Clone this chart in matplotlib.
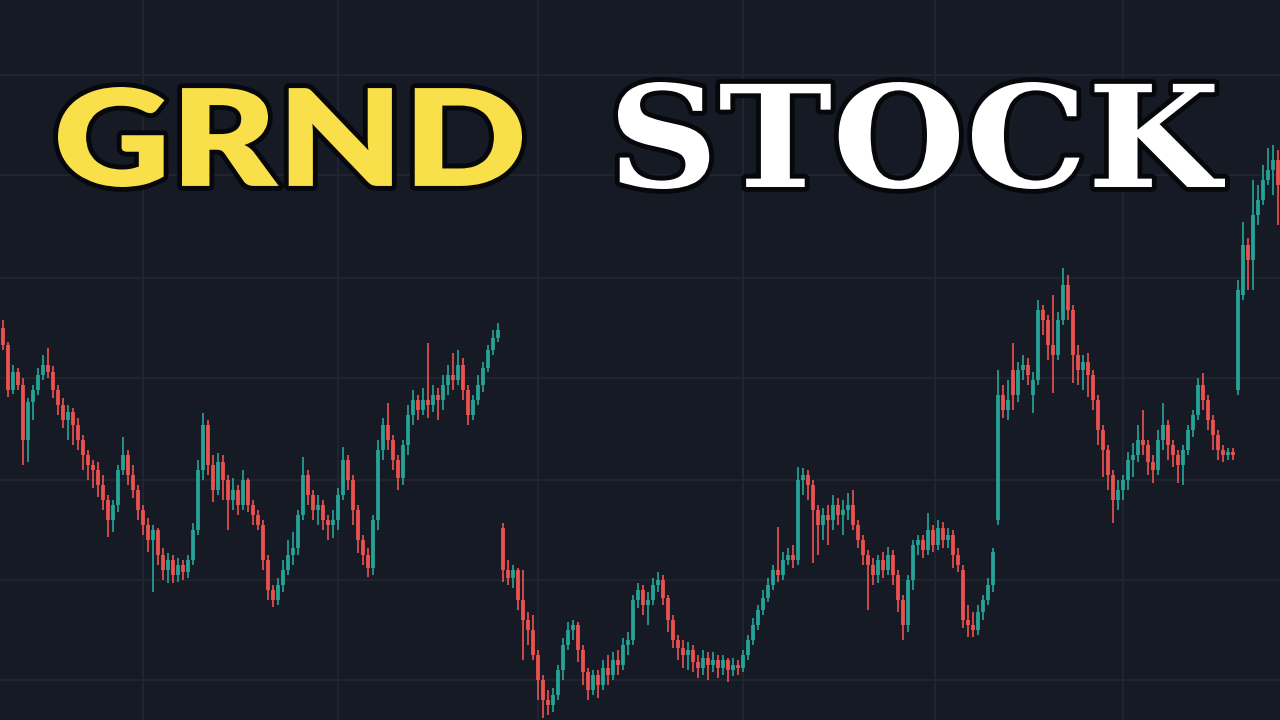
import matplotlib
matplotlib.use("Agg")
import matplotlib.pyplot as plt
from matplotlib.font_manager import FontProperties
from matplotlib.patches import PathPatch
from matplotlib.textpath import TextPath
from matplotlib.transforms import Affine2D
import numpy as np

# daily candles, price in arbitrary chart units
opens = [
    392, 375, 330, 348, 335, 280, 318, 330, 345, 355,
    348, 330, 315, 300, 308, 295, 280, 265, 255, 250,
    235, 220, 200, 215, 250, 265, 245, 230, 210, 195,
    180, 190, 165, 150, 160, 145, 155, 148, 160, 190,
    250, 295, 255, 230, 258, 240, 220, 230, 215, 240,
    215, 205, 195, 160, 130, 120, 135, 150, 165, 172,
    205, 245, 225, 210, 215, 200, 195, 200, 225, 260,
    240, 210, 180, 165, 152, 200, 270, 295, 280, 260,
    242, 275, 305, 320, 310, 320, 315, 325, 320, 335,
    345, 340, 355, 330, 305, 320, 335, 352, 370, 382,
    192, 150, 142, 150, 120, 100, 90, 65, 40, 20,
    15, 25, 50, 75, 90, 95, 70, 48, 30, 45,
    35, 52, 45, 60, 55, 75, 80, 120, 130, 115,
    120, 135, 140, 122, 100, 80, 72, 65, 70, 58,
    52, 62, 55, 60, 52, 60, 50, 55, 52, 65,
    80, 95, 110, 122, 135, 150, 145, 160, 165, 160,
    240, 245, 235, 210, 195, 205, 200, 215, 205, 210,
    215, 195, 180, 165, 155, 145, 160, 150, 165, 145,
    120, 95, 140, 175, 180, 170, 190, 175, 192, 180,
    185, 165, 150, 100, 95, 90, 108, 120, 135, 200,
    325, 310, 350, 325, 350, 355, 325, 340, 410, 400,
    375, 365, 400, 435, 410, 365, 350, 358, 345, 320,
    290, 270, 245, 220, 230, 240, 260, 265, 280, 275,
    258, 250, 280, 295, 275, 265, 255, 270, 290, 305,
    335, 320, 300, 285, 270, 265, 268, 330, 425, 475,
    460, 505, 520, 540, 550, 560,
]
closes = [
    375, 330, 348, 335, 280, 318, 330, 345, 355, 348,
    330, 315, 300, 308, 295, 280, 265, 255, 250, 235,
    220, 200, 215, 250, 265, 245, 230, 210, 195, 180,
    190, 165, 150, 160, 145, 155, 148, 160, 190, 250,
    295, 255, 230, 258, 240, 220, 230, 215, 240, 215,
    205, 195, 160, 130, 120, 135, 150, 165, 172, 205,
    245, 225, 210, 215, 200, 195, 200, 225, 260, 240,
    210, 180, 165, 152, 200, 270, 295, 280, 260, 242,
    275, 305, 320, 310, 320, 315, 325, 320, 335, 345,
    340, 355, 330, 305, 320, 335, 352, 370, 382, 390,
    150, 142, 150, 120, 100, 90, 65, 40, 20, 15,
    25, 50, 75, 90, 95, 70, 48, 30, 45, 35,
    52, 45, 60, 55, 75, 80, 120, 130, 115, 120,
    135, 140, 122, 100, 80, 72, 65, 70, 58, 52,
    62, 55, 60, 52, 60, 50, 55, 52, 65, 80,
    95, 110, 122, 135, 150, 145, 160, 165, 160, 240,
    245, 235, 210, 195, 205, 200, 215, 205, 210, 215,
    195, 180, 165, 155, 145, 160, 150, 165, 145, 120,
    95, 140, 175, 180, 170, 190, 175, 192, 180, 185,
    165, 155, 100, 95, 90, 108, 120, 135, 168, 325,
    310, 320, 325, 350, 355, 345, 340, 410, 400, 375,
    365, 400, 435, 410, 365, 350, 358, 345, 320, 290,
    270, 245, 220, 230, 240, 260, 265, 280, 275, 258,
    250, 280, 295, 275, 265, 255, 270, 290, 305, 335,
    320, 300, 285, 270, 265, 268, 265, 430, 475, 460,
    505, 520, 540, 550, 560, 535,
]
highs = [
    400, 378, 355, 352, 342, 322, 335, 352, 365, 372,
    354, 335, 322, 315, 312, 302, 285, 270, 260, 258,
    245, 225, 220, 255, 283, 270, 255, 235, 215, 202,
    195, 192, 172, 167, 165, 162, 160, 165, 197, 260,
    307, 300, 265, 267, 265, 245, 242, 235, 250, 242,
    220, 210, 200, 165, 135, 142, 160, 180, 188, 210,
    263, 250, 230, 225, 220, 205, 210, 232, 273, 265,
    245, 215, 185, 172, 205, 280, 302, 317, 285, 265,
    280, 315, 330, 325, 332, 377, 335, 332, 345, 355,
    367, 370, 362, 335, 325, 345, 358, 375, 390, 397,
    197, 160, 155, 152, 150, 108, 105, 70, 45, 30,
    32, 55, 82, 98, 100, 98, 75, 52, 50, 50,
    60, 65, 68, 70, 82, 88, 125, 137, 135, 128,
    142, 148, 145, 125, 105, 85, 80, 78, 75, 65,
    70, 68, 68, 65, 65, 62, 62, 60, 70, 85,
    102, 115, 130, 142, 155, 193, 168, 172, 175, 253,
    252, 250, 240, 215, 212, 215, 225, 222, 220, 227,
    230, 200, 185, 170, 162, 165, 168, 173, 170, 150,
    125, 145, 180, 185, 185, 207, 195, 200, 198, 192,
    190, 172, 155, 115, 108, 115, 125, 142, 172, 350,
    335, 340, 377, 358, 365, 362, 348, 420, 415, 405,
    425, 408, 452, 445, 415, 375, 365, 367, 350, 325,
    295, 275, 250, 240, 245, 268, 277, 295, 310, 280,
    265, 290, 317, 300, 280, 270, 275, 295, 310, 342,
    347, 325, 305, 290, 275, 272, 272, 440, 498, 482,
    540, 535, 555, 572, 575, 570,
]
lows = [
    370, 323, 326, 330, 255, 258, 300, 325, 340, 342,
    322, 305, 292, 280, 275, 270, 250, 240, 232, 223,
    210, 183, 188, 208, 245, 235, 222, 200, 185, 168,
    128, 155, 140, 137, 137, 138, 140, 142, 155, 185,
    240, 245, 218, 225, 220, 190, 210, 205, 210, 208,
    195, 190, 150, 120, 113, 115, 128, 145, 155, 165,
    200, 215, 200, 195, 190, 180, 182, 190, 220, 230,
    195, 167, 155, 143, 145, 190, 260, 270, 250, 230,
    235, 265, 295, 300, 305, 302, 308, 300, 310, 325,
    330, 335, 320, 295, 300, 315, 328, 348, 365, 378,
    138, 135, 132, 110, 60, 75, 60, 20, 2, 5,
    8, 20, 40, 70, 80, 58, 35, 20, 25, 22,
    30, 35, 40, 45, 50, 65, 75, 112, 105, 95,
    115, 128, 115, 88, 72, 60, 52, 50, 48, 42,
    45, 40, 48, 42, 45, 38, 44, 45, 48, 60,
    75, 90, 105, 118, 130, 138, 140, 155, 152, 155,
    225, 220, 157, 165, 180, 175, 190, 195, 185, 200,
    190, 172, 155, 110, 135, 137, 142, 145, 135, 108,
    80, 88, 130, 165, 162, 165, 168, 170, 172, 172,
    152, 148, 92, 83, 83, 85, 100, 115, 128, 195,
    302, 300, 310, 318, 340, 335, 307, 335, 385, 360,
    327, 360, 395, 400, 337, 335, 330, 323, 310, 275,
    243, 230, 197, 210, 220, 230, 243, 258, 265, 245,
    237, 245, 270, 260, 253, 237, 235, 265, 283, 300,
    310, 290, 270, 260, 258, 260, 260, 325, 420, 430,
    430, 495, 515, 535, 525, 495,
]

# date gridlines (candle index) and price gridlines
grid_x = [28, 67, 107, 148, 186.5, 224]
grid_y = [40, 140, 240, 342, 442, 545, 645]

BG = "#161a25"
GRID = "#20242f"
UP = "#26a69a"
DOWN = "#ef5350"
INK = "#07080c"

o = np.array(opens, float)
c = np.array(closes, float)
h = np.maximum(np.array(highs, float), np.maximum(o, c))
l = np.minimum(np.array(lows, float), np.minimum(o, c))
x = np.arange(len(o))
colors = np.where(c >= o, UP, DOWN)

fig = plt.figure(figsize=(12.8, 7.2), dpi=100, facecolor=BG)
ax = fig.add_axes([0, 0, 1, 1])
ax.set_facecolor(BG)

for gx in grid_x:
    ax.axvline(gx, color=GRID, lw=1.5, zorder=0)
for gy in grid_y:
    ax.axhline(gy, color=GRID, lw=1.5, zorder=0)

ax.vlines(x, l, h, colors=colors, lw=1.4, alpha=0.85, zorder=2)
body = np.maximum(np.abs(c - o), 2.5)
ax.bar(x, body, bottom=np.minimum(o, c), width=0.8, color=colors,
       alpha=0.88, linewidth=0, zorder=3)

ax.set_xlim(-0.5, len(o) - 0.5)
ax.set_ylim(0, 720)
ax.axis("off")

# title overlay in pixel units (y up)
tax = fig.add_axes([0, 0, 1, 1])
tax.set_xlim(0, 1280)
tax.set_ylim(0, 720)
tax.axis("off")
tax.patch.set_alpha(0)


def word(s, fp, x0, x1, ybase, ytop, color):
    tp = TextPath((0, 0), s, size=100, prop=fp)
    ext = tp.get_extents()
    tr = (Affine2D().translate(-ext.x0, -ext.y0)
          .scale((x1 - x0) / ext.width, (ytop - ybase) / ext.height)
          .translate(x0, ybase))
    path = tr.transform_path(tp)
    tax.add_patch(PathPatch(path, fc=INK, ec=INK, lw=7, joinstyle="round"))
    tax.add_patch(PathPatch(path, fc=color, ec="none"))


word("GRND", FontProperties(family="Lato", weight="heavy"),
     58, 522, 533, 633, "#f9e04b")
word("STOCK", FontProperties(family="DejaVu Serif", weight="bold"),
     618, 1225, 531, 638, "white")

fig.savefig("out.png", dpi=100, facecolor=BG)
